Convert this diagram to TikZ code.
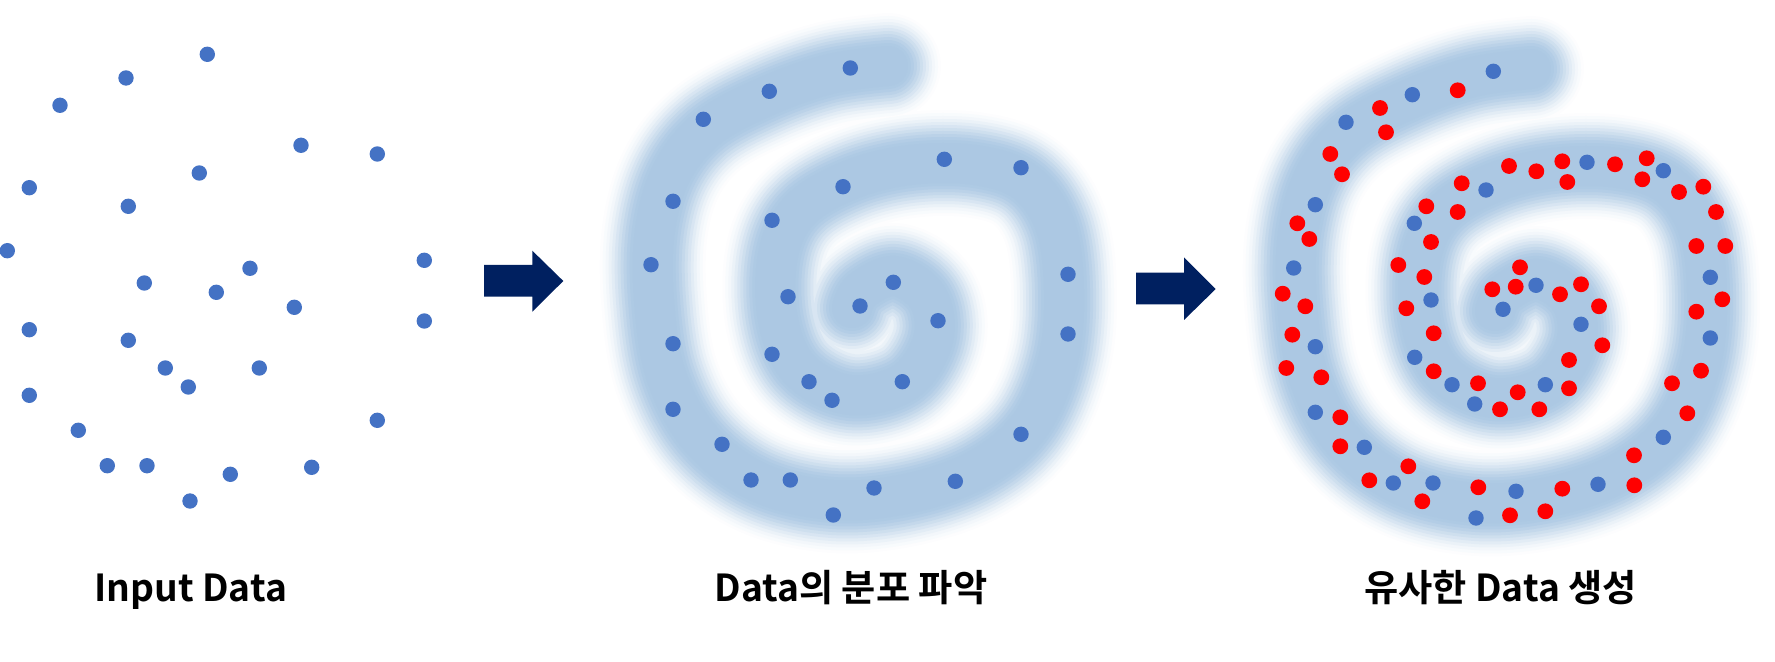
\documentclass[tikz,border=0pt]{standalone}
\usepackage{fontspec}
\newfontfamily\kr{Noto Sans CJK KR}[BoldFont={* Bold}]
\definecolor{sp}{RGB}{172,200,227}
\definecolor{dotblue}{RGB}{68,114,196}
\definecolor{dotred}{RGB}{255,0,0}
\definecolor{arrowblue}{RGB}{0,32,96}
\tikzset{
  bluedot/.style={fill=dotblue},
  reddot/.style={fill=dotred},
  blockarrow/.style={fill=arrowblue},
  caption/.style={anchor=base,inner sep=0pt,font=\kr\bfseries\fontsize{18.6pt}{22pt}\selectfont}
}
\newcommand\myspiral{%
  \foreach \w/\f in {106/3,100/8,94/15,88/24,82/35,76/47,70/59,64/71,58/82,52/91,46/97,40/100}{%
    \draw[line width=\w*0.5pt, color=sp!\f!white, line cap=round, line join=round]
      plot[smooth,tension=0.6] coordinates {(888,66) (830,74) (767,96) (708,128) (672,172) (655,230) (654,300) (666,375) (700,438) (758,482) (833,500) (910,493) (980,468) (1030,425) (1058,360) (1064,290) (1055,225) (1025,182) (975,165) (910,165) (850,180) (800,210) (778,255) (778,320) (800,370) (850,395) (905,382) (933,340) (928,298) (895,276) (862,290) (852,308)};
  }%
}
\begin{document}
\begin{tikzpicture}[x=0.5pt,y=-0.5pt]
\useasboundingbox (0,0) rectangle (1775,662);
% panel 1 dots
\foreach \px/\py in {207.3/54.3,126/78,60/105.3,301/145.3,377.3/154,199.3/173,29.3/187.7,128.3/206.3,7.3/250.7,424.3/260.3,250/268.3,144.3/283,216.3/292.3,294.3/307.3,424.3/321,29.3/329.7,128.3/340.3,165.3/368,259.3/368,188.3/387,29.3/395.3,78.3/430.3,377.3/420.3,107.3/465.7,147/465.7,311.7/467.3,230.3/474.3,190/501}
  \fill[bluedot] (\px,\py) circle[radius=7.7];
% panel 2 spiral and dots
\myspiral
\foreach \px/\py in {850.3/68,769.3/91.3,703.3/119.3,944.3/159.3,1021/167.7,843/186.7,673/201.3,772/220.3,651/264.7,1068/274.3,893.3/282.3,788/296.7,860/306,938/320.7,1068/334,673/343.7,772/354.3,809/381.7,902.3/381.7,832/400.3,673/409.3,722/444.3,1021/434.3,751/480,790.3/480,955.3/481.3,874/488,833.3/515}
  \fill[bluedot] (\px,\py) circle[radius=7.7];
% panel 3 spiral and dots
\begin{scope}[shift={(643,3)}]
\myspiral
\end{scope}
\foreach \px/\py in {1493.3/71.3,1412.3/94.7,1346/122.3,1315.3/204.7,1293.7/268,1315.3/346.7,1315.3/412.3,1364.3/447.3,1393.3/483,1433/483,1476/518,1516/491.3,1598/484.3,1663.3/437.3,1710.3/338,1710.3/277.3,1663.3/170.7,1587/162.3,1486/190,1414.3/223.3,1431/300,1536/285.3,1503/309.3,1581/324.3,1414.7/357.3,1452/384.7,1474.7/404,1545.3/384.7}
  \fill[bluedot] (\px,\py) circle[radius=7.7];
\foreach \px/\py in {1457.7/90.3,1380/108,1386/132.3,1330.3/154,1342/174.3,1297.3/223.3,1309.3/239,1282.7/293.7,1305.3/306.3,1292.3/334.7,1286.3/368,1321.3/377.3,1340.3/417.3,1340.3/446.3,1408.3/466.3,1369.3/480.3,1422.3/501.3,1478.3/487.3,1510/515.3,1545.3/511.3,1562.3/488.7,1634.3/485.3,1634/455.3,1687.3/413.3,1672/383.3,1701/370.7,1696.3/311.7,1722.3/299.3,1696.3/246,1725.3/246,1716/212,1703.3/186.7,1679/192,1642.3/179.3,1646.7/158.3,1615/164.3,1567.3/182,1562.3/161.3,1536.3/171.3,1509/166,1461.7/183.3,1457.7/212,1426.3/206.3,1431/242,1398.3/265,1424.3/277,1406.3/308.3,1433.7/333.3,1433.7/371.3,1478/383.3,1500/409.3,1517.7/392.3,1539.3/409.3,1569/388.3,1569/360,1602.3/345.3,1599/306.3,1581/284.3,1560/294.3,1520/267.3,1515.7/286.7,1492.3/289.3}
  \fill[reddot] (\px,\py) circle[radius=7.9];
% arrows
\fill[blockarrow] (484,265) -- (532.3,265) -- (532.3,250.7) -- (563.3,281) -- (532.3,311.7) -- (532.3,296.7) -- (484,296.7) -- cycle;
\fill[blockarrow] (1136,272.7) -- (1184,272.7) -- (1184,257.3) -- (1215.7,289) -- (1184,320) -- (1184,304.3) -- (1136,304.3) -- cycle;
% captions
\node[caption] (c1) at (190.7,601) {Input Data};
\node[caption] (c2) at (851,601) {Data의 분포 파악};
\node[caption] (c3) at (1500.5,601) {유사한 Data 생성};
\end{tikzpicture}
\end{document}
